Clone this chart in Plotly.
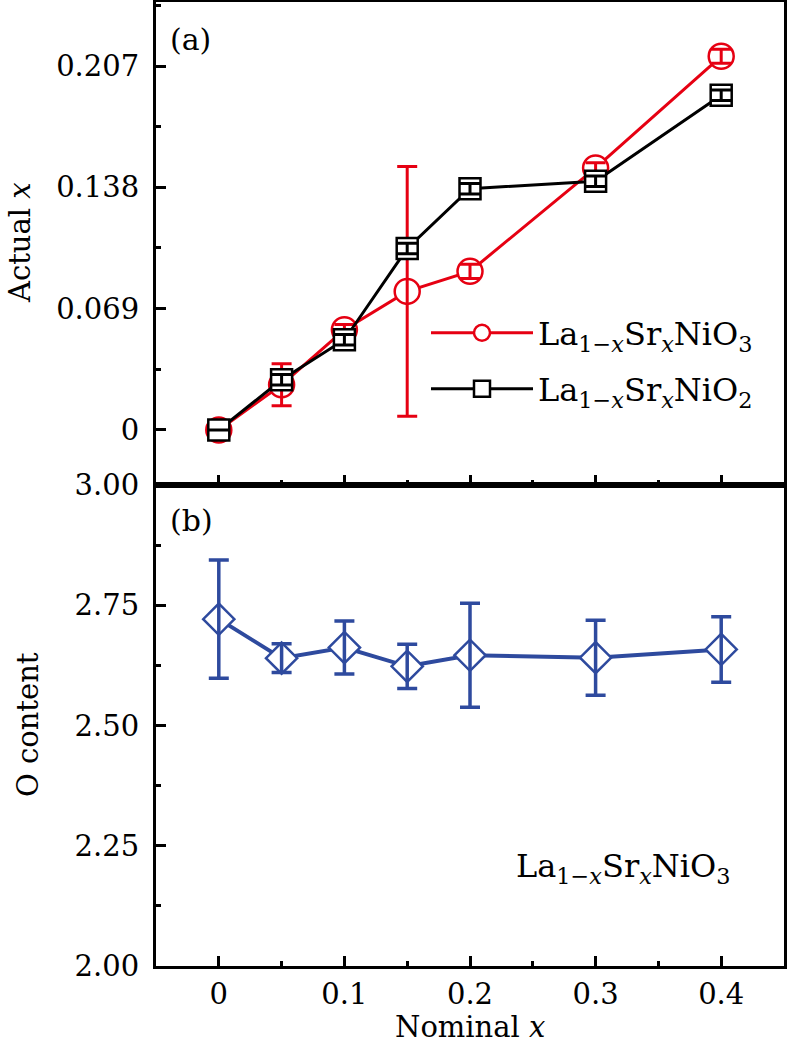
import plotly.graph_objects as go

# ---- data ----
nominal_x = [0, 0.05, 0.1, 0.15, 0.2, 0.3, 0.4]
actual_nio3 = [0.0, 0.0257, 0.057, 0.0788, 0.0902, 0.149, 0.2125]
err_nio3 = [0.0, 0.012, 0.003, 0.071, 0.004, 0.003, 0.004]
actual_nio2 = [0.0, 0.0285, 0.0513, 0.1032, 0.1372, 0.1415, 0.1904]
err_nio2 = [0.0, 0.003, 0.003, 0.003, 0.003, 0.003, 0.003]
o_content = [2.721, 2.640, 2.662, 2.623, 2.646, 2.641, 2.658]
o_err = [0.123, 0.030, 0.055, 0.046, 0.108, 0.078, 0.068]

x_ticks = [0, 0.1, 0.2, 0.3, 0.4]
x_ticktext = ["0", "0.1", "0.2", "0.3", "0.4"]
x_minor = [0.05, 0.15, 0.25, 0.35]
top_ticks = [0, 0.069, 0.138, 0.207]
top_ticktext = ["0", "0.069", "0.138", "0.207"]
top_minor = [0.0345, 0.1035, 0.1725, 0.2415]
bot_ticks = [2.0, 2.25, 2.5, 2.75, 3.0]
bot_ticktext = ["2.00", "2.25", "2.50", "2.75", "3.00"]
bot_minor = [2.125, 2.375, 2.625, 2.875]

name_nio3 = "La<sub>1−<i>x</i></sub>Sr<sub><i>x</i></sub>NiO<sub>3</sub>"
name_nio2 = "La<sub>1−<i>x</i></sub>Sr<sub><i>x</i></sub>NiO<sub>2</sub>"

RED = "#E60012"
BLACK = "#000000"
BLUE = "#2E4A9E"
FONT = "DejaVu Serif"
FS = 29
FS_FORMULA = 32

L_PX, R_PX, T_PX, B_PX = 156, 4, 2, 81
W, H = 788, 1047
PW = W - L_PX - R_PX
PH = H - T_PX - B_PX


def px_x(px):
    return (px - L_PX) / PW


def px_y(py):
    return (H - B_PX - py) / PH


fig = go.Figure()

# red series (top panel)
fig.add_trace(go.Scatter(
    x=nominal_x, y=actual_nio3, xaxis="x2", yaxis="y2", mode="lines+markers",
    name=name_nio3, legend="legend",
    line=dict(color=RED, width=3),
    marker=dict(symbol="circle", size=25, color="white", line=dict(color=RED, width=2.5)),
))
fig.add_trace(go.Scatter(
    x=nominal_x, y=actual_nio3, xaxis="x2", yaxis="y2", mode="markers",
    showlegend=False, hoverinfo="skip",
    marker=dict(size=1, opacity=0, color=RED),
    error_y=dict(type="data", array=err_nio3, color=RED, thickness=3, width=10),
))
# black series (top panel)
fig.add_trace(go.Scatter(
    x=nominal_x, y=actual_nio2, xaxis="x2", yaxis="y2", mode="lines+markers",
    name=name_nio2, legend="legend2",
    line=dict(color=BLACK, width=3),
    marker=dict(symbol="square", size=21, color="white", line=dict(color=BLACK, width=2.5)),
))
fig.add_trace(go.Scatter(
    x=nominal_x, y=actual_nio2, xaxis="x2", yaxis="y2", mode="markers",
    showlegend=False, hoverinfo="skip",
    marker=dict(size=1, opacity=0, color=BLACK),
    error_y=dict(type="data", array=err_nio2, color=BLACK, thickness=3, width=10),
))
# blue series (bottom panel)
fig.add_trace(go.Scatter(
    x=nominal_x, y=o_content, xaxis="x", yaxis="y", mode="lines+markers",
    showlegend=False,
    line=dict(color=BLUE, width=4),
    marker=dict(symbol="diamond", size=24, color="white", line=dict(color=BLUE, width=2.5)),
))
fig.add_trace(go.Scatter(
    x=nominal_x, y=o_content, xaxis="x", yaxis="y", mode="markers",
    showlegend=False, hoverinfo="skip",
    marker=dict(size=1, opacity=0, color=BLUE),
    error_y=dict(type="data", array=o_err, color=BLUE, thickness=3.5, width=10),
))

axis_common = dict(
    showline=True, linewidth=3, linecolor="black", mirror=True,
    showgrid=False, zeroline=False, automargin=False,
    ticks="inside", ticklen=10, tickwidth=3, tickcolor="black",
    tickfont=dict(family=FONT, size=FS, color="black"),
)
minor_common = dict(ticks="inside", ticklen=5, tickwidth=3, tickcolor="black")

fig.update_layout(
    width=W, height=H,
    margin=dict(l=L_PX, r=R_PX, t=T_PX, b=B_PX, autoexpand=False),
    paper_bgcolor="white", plot_bgcolor="white",
    font=dict(family=FONT, size=FS, color="black"),
    xaxis=dict(domain=[0, 1], anchor="y", range=[-0.05, 0.45],
               tickvals=x_ticks, ticktext=x_ticktext,
               minor=dict(tickvals=x_minor, **minor_common),
               ticklabelstandoff=0, **axis_common),
    yaxis=dict(domain=[0, 0.499], anchor="x", range=[2.0, 3.0],
               tickvals=bot_ticks, ticktext=bot_ticktext,
               minor=dict(tickvals=bot_minor, **minor_common),
               ticklabelstandoff=8, **axis_common),
    xaxis2=dict(domain=[0, 1], anchor="y2", matches="x", range=[-0.05, 0.45],
                tickvals=x_ticks, showticklabels=False,
                minor=dict(tickvals=x_minor, **minor_common),
                **axis_common),
    yaxis2=dict(domain=[0.499, 1], anchor="x2", range=[-0.0313, 0.2434],
                tickvals=top_ticks, ticktext=top_ticktext,
                minor=dict(tickvals=top_minor, **minor_common),
                ticklabelstandoff=8, **axis_common),
    legend=dict(x=px_x(426), y=px_y(333), xanchor="left", yanchor="middle",
                bgcolor="rgba(0,0,0,0)", borderwidth=0, itemwidth=102,
                font=dict(family=FONT, size=FS_FORMULA, color="black")),
    legend2=dict(x=px_x(426), y=px_y(389), xanchor="left", yanchor="middle",
                 bgcolor="rgba(0,0,0,0)", borderwidth=0, itemwidth=102,
                 font=dict(family=FONT, size=FS_FORMULA, color="black")),
    showlegend=True,
)

annotations = [
    dict(text="(a)", x=px_x(168), y=px_y(40), xanchor="left", yanchor="middle", size=FS + 1),
    dict(text="(b)", x=px_x(168), y=px_y(520), xanchor="left", yanchor="middle", size=FS + 1),
    dict(text=name_nio3, x=px_x(514), y=px_y(868), xanchor="left", yanchor="middle", size=FS_FORMULA),
    dict(text="Actual <i>x</i>", x=px_x(20), y=px_y(243), xanchor="center", yanchor="middle", textangle=-90, size=FS),
    dict(text="O content", x=px_x(28), y=px_y(725), xanchor="center", yanchor="middle", textangle=-90, size=FS),
    dict(text="Nominal <i>x</i>", x=px_x(470), y=px_y(1027), xanchor="center", yanchor="middle", size=FS),
]
for a in annotations:
    size = a.pop("size")
    fig.add_annotation(xref="paper", yref="paper", showarrow=False,
                       font=dict(family=FONT, size=size, color="black"), **a)

fig.write_html("out.html")
